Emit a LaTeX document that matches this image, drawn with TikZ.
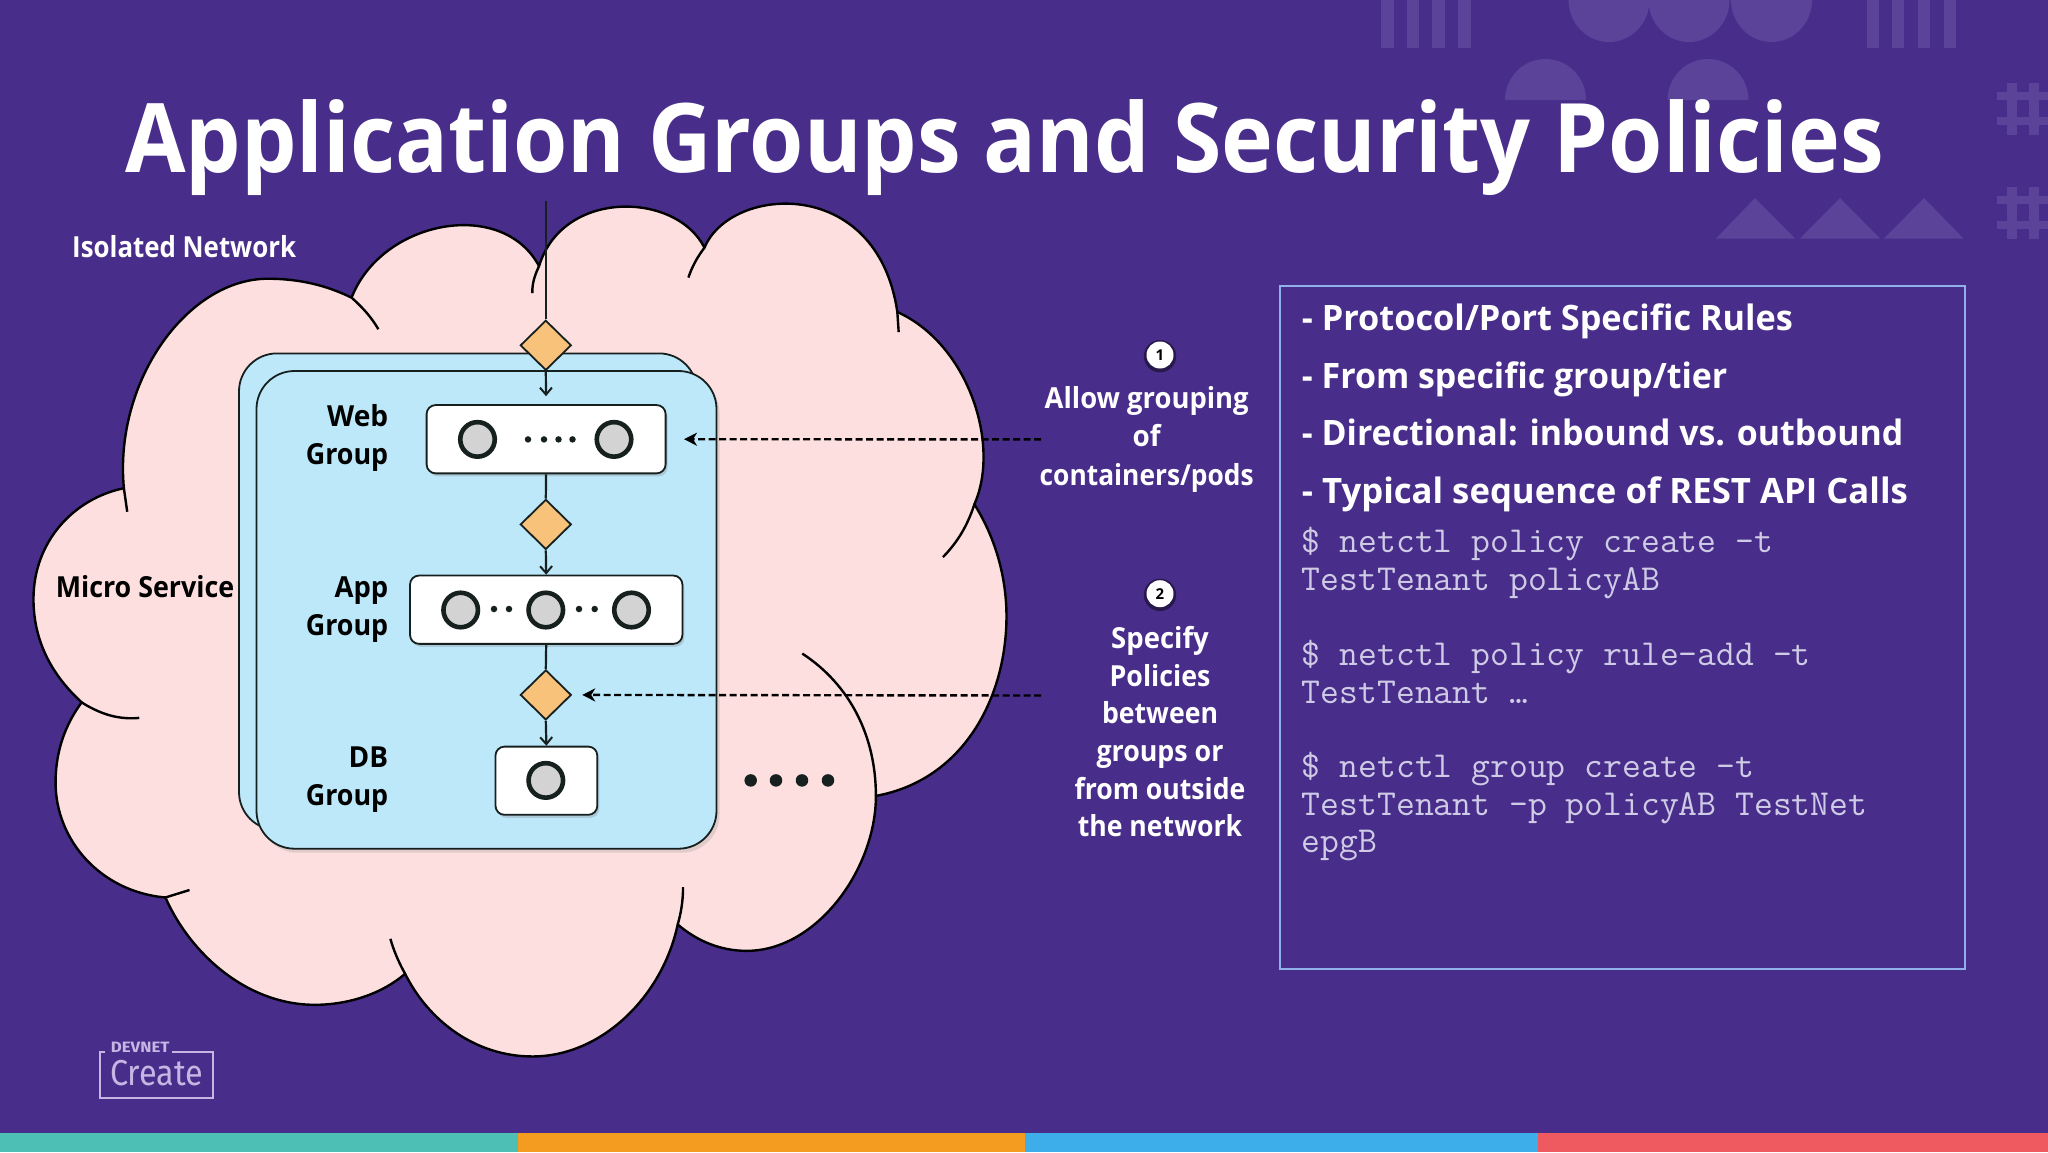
\documentclass[tikz,border=0pt]{standalone}
\usepackage{graphicx}
\usepackage{fontspec}
\usetikzlibrary{shapes.geometric,arrows.meta,shadows}
\newfontfamily\semi{Open Sans}
\newfontfamily\fira{Fira Sans}
\definecolor{bgp}{HTML}{482E8A}
\definecolor{deco}{HTML}{5A4399}
\definecolor{pinkc}{HTML}{FDDFE0}
\definecolor{bluep}{HTML}{BDE8FA}
\definecolor{oran}{HTML}{F8C27A}
\definecolor{gr}{HTML}{D3D3D3}
\definecolor{monoc}{HTML}{CFCBE6}
\definecolor{logoc}{HTML}{C7B5E3}
\definecolor{frame}{HTML}{8FB0E8}
\definecolor{ink}{HTML}{16201F}
\definecolor{b1}{HTML}{4DBFB5}
\definecolor{b2}{HTML}{F39C1F}
\definecolor{b3}{HTML}{3DAEE9}
\definecolor{b4}{HTML}{EE5A5F}
\newcommand{\fitx}[2]{\setbox0=\hbox{#2}\pgfmathsetmacro{\rr}{#1/\the\wd0}\scalebox{\rr}[1]{\box0}}
\tikzset{
 txt/.style={inner sep=0pt,font=\semi\bfseries\fontsize{#1}{#1}\selectfont},
 wtxt/.style={txt=#1,text=white},
 btxt/.style={txt=#1,text=black},
 mono/.style={inner sep=0pt,anchor=base west,text=monoc,font=\ttfamily\fontsize{36.6}{37}\selectfont},
 cloudline/.style={draw=black,line width=2.4pt,line join=round},
 lobe/.style={smooth,tension=1},
 panel/.style={draw=ink,fill=bluep,line width=1.8pt,rounded corners=38pt},
 wbox/.style={draw=ink,fill=white,line width=1.8pt,rounded corners=9pt,inner sep=0pt,
   drop shadow={shadow xshift=2pt,shadow yshift=-3pt,opacity=.3}},
 dia/.style={diamond,draw=ink,fill=oran,line width=1.8pt,inner sep=0pt,minimum width=51pt,minimum height=50pt},
 cont/.style={circle,draw=ink,fill=gr,line width=4.6pt,inner sep=0pt,minimum size=34.5pt},
 sdot/.style={circle,fill=ink,inner sep=0pt,minimum size=#1},
 flow/.style={draw=ink,line width=2.2pt},
 arr/.style={flow,-{Straight Barb[length=7pt,width=12pt,line width=2pt]}},
 darr/.style={draw=black,line width=2.4pt,dash pattern=on 7pt off 3.5pt,-{Stealth[length=13pt,width=13pt,inset=4pt]}},
 badge/.style={circle,fill=white,inner sep=0pt,minimum size=27pt,text=black,font=\semi\bfseries\fontsize{15}{15}\selectfont,
   drop shadow={shadow xshift=0pt,shadow yshift=-1pt,shadow scale=1.2,fill=black,opacity=.45}},
 decofill/.style={fill=deco},
}
\begin{document}
\begin{tikzpicture}[x=1pt,y=-1pt]
\useasboundingbox (0,0) rectangle (2048,1152);
\fill[bgp] (0,0) rectangle (2048,1152);
% bottom colour bar
\fill[b1] (0,1133) rectangle (518,1152);
\fill[b2] (518,1133) rectangle (1025,1152);
\fill[b3] (1025,1133) rectangle (1538,1152);
\fill[b4] (1538,1133) rectangle (2048,1152);
% background decoration
\foreach \a/\b in {1381/1393.6,1406.5/1419,1432.4/1445,1458/1471,1866.5/1878.5,1892/1904,1918/1930,1943.5/1956}
  \fill[decofill] (\a,0) rectangle (\b,48);
\foreach \c in {1609,1689,1771.5}
  \fill[decofill] (\c-40.5,0) arc[start angle=180,end angle=360,x radius=40.5,y radius=-42] -- cycle;
\foreach \c in {1545.5,1708}
  \fill[decofill] (\c-40.5,100) arc[start angle=180,end angle=0,x radius=40.5,y radius=-41] -- cycle;
\foreach \a/\l/\r in {1755/1716/1795,1840/1800/1880,1924/1884/1963.5}
  \fill[decofill] (\a,198) -- (\r,238.5) -- (\l,238.5) -- cycle;
\foreach \t in {0,104}{
  \fill[decofill] (2006.7,83+\t) rectangle (2016.5,135+\t);
  \fill[decofill] (2029,83+\t) rectangle (2039,135+\t);
  \fill[decofill] (1996.5,92+\t) rectangle (2048,100+\t);
  \fill[decofill] (1996.5,117+\t) rectangle (2048,125+\t);
}
% title
\node[wtxt=96,anchor=base west] (title) at (125,172) {\fitx{1759}{Application Groups and Security Policies}};
% cloud, in a scope whose units follow the outline measurements
\begin{scope}[shift={(0pt,-180pt)},x=0.66964pt,y=-0.57398pt]
\path[cloudline,fill=pinkc]
 (525,205) .. controls (570,70) and (750,30) .. (805,150)
 .. controls (840,15) and (1010,20) .. (1052,118)
 .. controls (1090,10) and (1310,-10) .. (1340,230)
 .. controls (1445,285) and (1495,460) .. (1455,565)
 .. controls (1490,630) and (1503,700) .. (1503,760)
 .. controls (1503,900) and (1440,1045) .. (1308,1073)
 .. controls (1308,1200) and (1220,1343) .. (1115,1343)
 .. controls (1075,1343) and (1040,1325) .. (1012,1297)
 .. controls (990,1420) and (900,1527) .. (795,1527)
 .. controls (710,1527) and (640,1465) .. (605,1383)
 .. controls (570,1418) and (520,1437) .. (470,1437)
 .. controls (370,1437) and (285,1350) .. (247,1250)
 .. controls (150,1240) and (83,1150) .. (83,1050)
 .. controls (83,990) and (100,945) .. (122,910)
 .. controls (75,860) and (50,800) .. (50,730)
 .. controls (50,630) and (110,555) .. (185,537)
 .. controls (170,350) and (280,172) .. (400,172)
 .. controls (450,172) and (490,185) .. (525,205)
 -- cycle;
\draw[cloudline] plot[lobe] coordinates {(795,197)(797,175)(805,150)};
\draw[cloudline] plot[lobe] coordinates {(1028,170)(1038,143)(1052,118)};
\draw[cloudline] (1340,230) -- (1342,265);
\draw[cloudline] plot[lobe] coordinates {(1408,657)(1436,615)(1455,565)};
\draw[cloudline] (1198,825) .. controls (1270,880) and (1308,970) .. (1308,1073);
\draw[cloudline] plot[lobe] coordinates {(1020,1232)(1018,1265)(1012,1297)};
\draw[cloudline] plot[lobe] coordinates {(583,1322)(592,1352)(605,1383)};
\draw[cloudline] (247,1250) -- (283,1237);
\draw[cloudline] plot[lobe] coordinates {(122,910)(165,933)(208,937)};
\draw[cloudline] (185,537) -- (190,578);
\draw[cloudline] plot[lobe] coordinates {(525,205)(548,232)(565,260)};
\end{scope}
% panels
\path[panel] (239,353.4) rectangle (697,830);
\path[panel,drop shadow={shadow xshift=3pt,shadow yshift=-4pt,opacity=.22}] (256.5,371) rectangle (716.5,848.7);
% flow nodes
\node[dia] (d1) at (545.8,345.3) {};
\node[dia] (d2) at (545.8,524.4) {};
\node[dia] (d3) at (545.8,694.9) {};
\node[wbox,minimum width=239pt,minimum height=68.3pt] (web) at (546.1,439.2) {};
\node[wbox,minimum width=272.4pt,minimum height=68.3pt] (app) at (546.2,609.7) {};
\node[wbox,minimum width=101.8pt,minimum height=68.2pt] (db) at (546.4,780.7) {};
\node[cont] (w1) at (477.5,439.4) {};
\node[cont] (w2) at (614,439.4) {};
\node[cont] (a1) at (460.7,610) {};
\node[cont] (a2) at (545.8,610) {};
\node[cont] (a3) at (631.5,610) {};
\node[cont] (c1) at (545.8,780.4) {};
\foreach \n/\x in {wd1/528,wd2/544,wd3/558.5,wd4/572.5} \node[sdot=6.5pt] (\n) at (\x,439.4) {};
\foreach \n/\x in {ad1/494,ad2/509,ad3/579,ad4/594.7} \node[sdot=6.5pt] (\n) at (\x,609) {};
\foreach \n/\x in {md1/750.7,md2/776,md3/802,md4/828} \node[sdot=12.5pt] (\n) at (\x,780.4) {};
% connectors
\coordinate (topin) at (545.8,201);
\coordinate (c1in) at (1041,439.4);
\coordinate (c2in) at (1041,695.5);
\draw[flow] (topin) -- (d1.north);
\draw[arr,shorten >=8pt] (d1.south) -- (web.north);
\draw[flow] (web.south) -- (d2.north);
\draw[arr] (d2.south) -- (app.north);
\draw[flow] (app.south) -- (d3.north);
\draw[arr] (d3.south) -- (db.north);
\draw[darr,shorten >=17.5pt] (c1in) -- (web.east);
\draw[darr,shorten >=10pt] (c2in) -- (d3.east);
% group labels
\node[btxt=29,anchor=base east] (lweb) at (388.4,426) {\fitx{61}{Web}};
\node[btxt=29,anchor=base east] (lweb2) at (388.4,464) {\fitx{82.4}{Group}};
\node[btxt=29,anchor=base east] (lapp) at (388.4,597) {\fitx{53.6}{App}};
\node[btxt=29,anchor=base east] (lapp2) at (388.4,635) {\fitx{82.4}{Group}};
\node[btxt=29,anchor=base east] (ldb) at (388.4,767.5) {\fitx{39.5}{DB}};
\node[btxt=29,anchor=base east] (ldb2) at (388.4,805.7) {\fitx{82.4}{Group}};
\node[wtxt=29,anchor=base west] (iso) at (72,257.5) {\fitx{224}{Isolated Network}};
\node[btxt=29,anchor=base west] (micro) at (55.6,597) {\fitx{178.5}{Micro Service}};
% callouts
\node[badge] (b1) at (1160,355) {1};
\node[badge] (b2) at (1160,593.7) {2};
\node[wtxt=29,anchor=base] (t11) at (1146.7,408) {\fitx{204}{Allow grouping}};
\node[wtxt=29,anchor=base] (t12) at (1146.7,446) {\fitx{28}{of}};
\node[wtxt=29,anchor=base] (t13) at (1146.7,485) {\fitx{214}{containers/pods}};
\node[wtxt=29,anchor=base] (t21) at (1160,648.6) {\fitx{97.6}{Specify}};
\node[wtxt=29,anchor=base] (t22) at (1160,686) {\fitx{100.8}{Policies}};
\node[wtxt=29,anchor=base] (t23) at (1160,723.6) {\fitx{116}{between}};
\node[wtxt=29,anchor=base] (t24) at (1160,761) {\fitx{127}{groups or}};
\node[wtxt=29,anchor=base] (t25) at (1160,799) {\fitx{171}{from outside}};
\node[wtxt=29,anchor=base] (t26) at (1160,836) {\fitx{164.5}{the network}};
% right panel
\node[draw=frame,line width=2pt,inner sep=0pt,minimum width=685pt,minimum height=683pt] (rbox) at (1622.5,627.2) {};
\node[wtxt=35,anchor=base west] (r1) at (1301.7,330) {\fitx{491}{- Protocol/Port Specific Rules}};
\node[wtxt=35,anchor=base west] (r2) at (1301.7,388) {\fitx{425.4}{- From specific group/tier}};
\node[wtxt=35,anchor=base west] (r3) at (1301.7,445) {\fitx{601.4}{- Directional: inbound vs. outbound}};
\node[wtxt=35,anchor=base west] (r4) at (1301.7,503) {\fitx{606}{- Typical sequence of REST API Calls}};
\node[mono] (m1) at (1301.7,552) {\$ netctl policy create -t};
\node[mono] (m2) at (1301.7,590) {TestTenant policyAB};
\node[mono] (m3) at (1301.7,665) {\$ netctl policy rule-add -t};
\node[mono] (m4) at (1301.7,703) {TestTenant …};
\node[mono] (m5) at (1301.7,777) {\$ netctl group create -t};
\node[mono] (m6) at (1301.7,815) {TestTenant -p policyAB TestNet};
\node[mono] (m7) at (1301.7,852) {epgB};
% logo
\draw[logoc,line width=1.8pt] (171.7,1052) -- (213,1052) -- (213,1097.7) -- (100,1097.7) -- (100,1052) -- (105,1052);
\node[inner sep=0pt,anchor=base west,text=logoc,font=\fira\bfseries\fontsize{15}{15}\selectfont] (devnet) at (110.7,1052) {\fitx{58.6}{DEVNET}};
\node[inner sep=0pt,anchor=base west,text=logoc,font=\fira\fontsize{36}{36}\selectfont] (create) at (110,1085.7) {\fitx{93}{Create}};
\end{tikzpicture}
\end{document}
